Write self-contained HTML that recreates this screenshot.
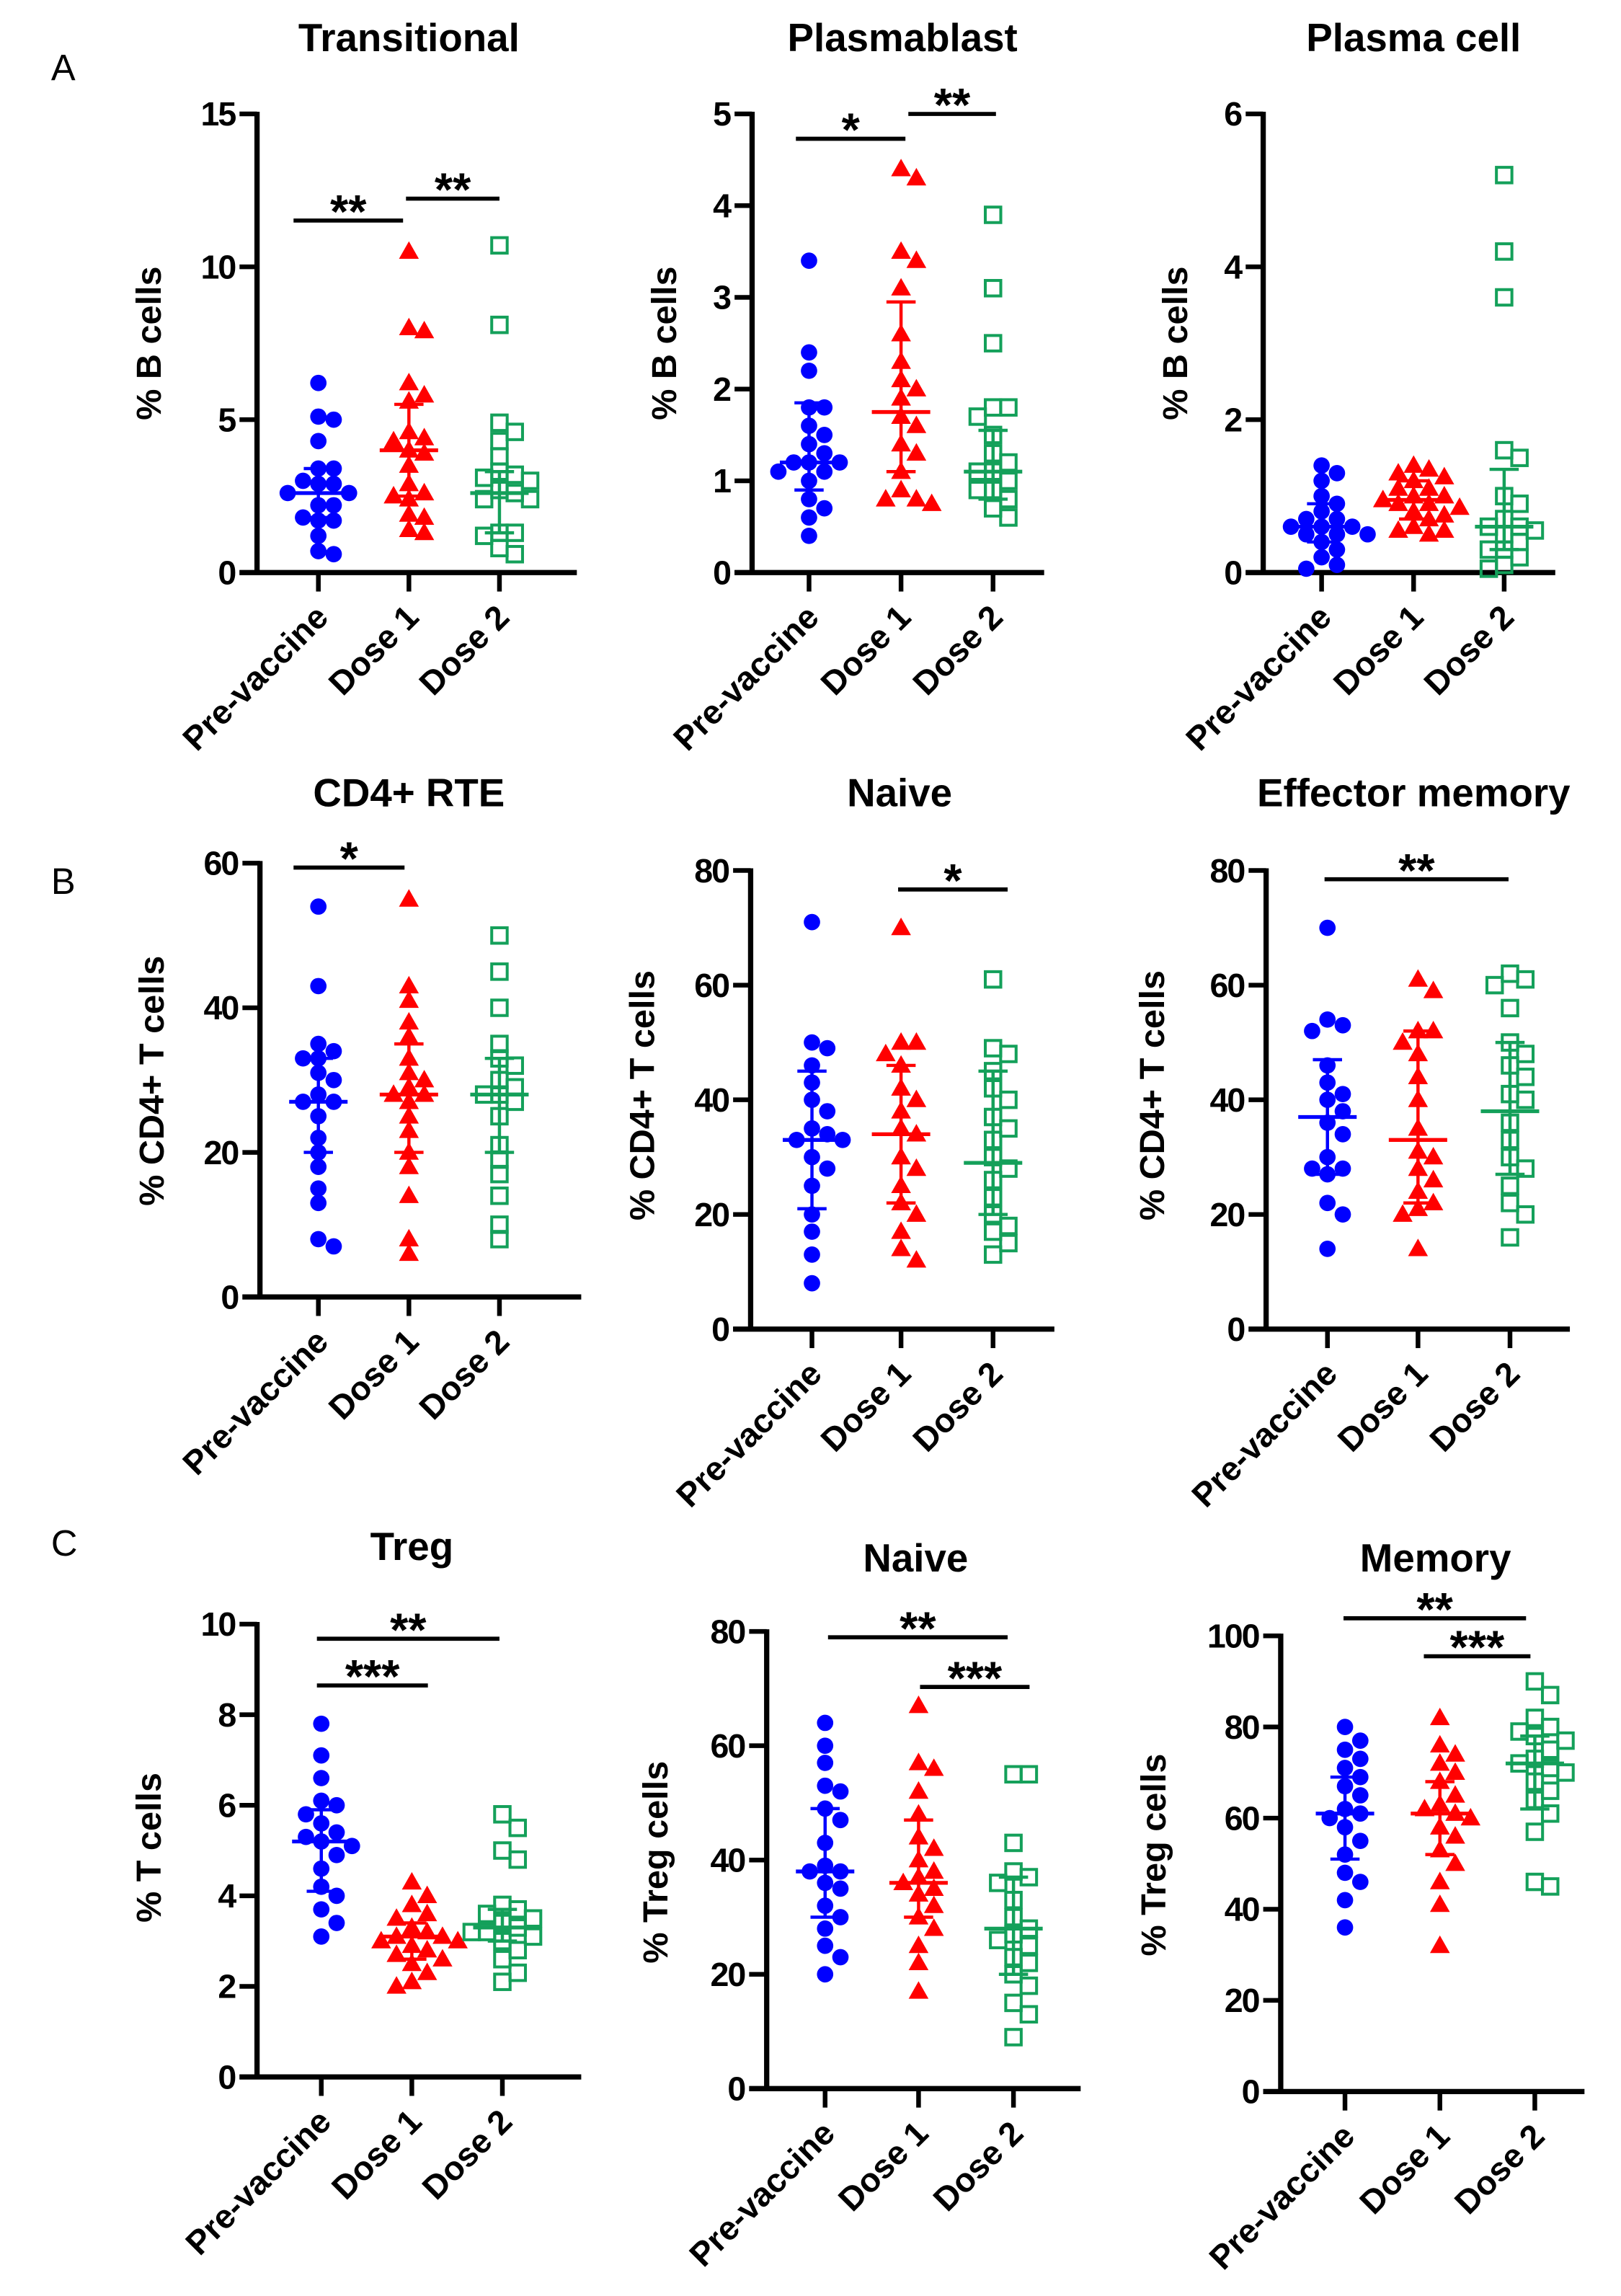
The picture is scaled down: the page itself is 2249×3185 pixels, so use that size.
<!DOCTYPE html>
<html><head><meta charset="utf-8"><style>
html,body{margin:0;padding:0;background:#fff;}
svg{display:block;}
text{font-family:"Liberation Sans",Arial,sans-serif;fill:#000;}
</style></head><body>
<svg id="s" xmlns="http://www.w3.org/2000/svg" width="2249" height="3185" viewBox="0 0 1110 1572"></svg>
<script>
const S=document.getElementById('s');let h='';
const COL=['#0000ff','#ff0000','#14a05a'];
function T(x,y,t,o){h+=`<text x="${x}" y="${y}" ${o||''}>${t}</text>`;}
function L(x1,y1,x2,y2,w,c){h+=`<line x1="${x1}" y1="${y1}" x2="${x2}" y2="${y2}" stroke="${c||'#000'}" stroke-width="${w}"/>`;}
function panel(p){
  const {ax,y0,y1,max,step,cats,title,tx,ty,yl,ylx,yly,data,st,xr}=p;
  const Y=v=>y0-(v/max)*(y0-y1);
  T(tx,ty,title,'font-size="27" font-weight="bold" text-anchor="middle"');
  T(ylx,yly,yl,`font-size="24" font-weight="bold" text-anchor="middle" transform="rotate(-90 ${ylx} ${yly})"`);
  L(ax,y1-1.5,ax,y0+1.5,3.6);
  L(ax-12,y0,xr,y0,3.6);
  for(let v=0;v<=max+1e-9;v+=step){const y=Y(v);L(ax-12,y,ax,y,3.2);
    T(ax-15,y+8,+v.toFixed(0),'font-size="23" text-anchor="end" font-weight="bold" style="letter-spacing:-1px"');}
  const names=['Pre-vaccine','Dose 1','Dose 2'];
  cats.forEach((c,i)=>{L(c,y0,c,y0+13,3.2);
    T(c+8,y0+32,names[i],`font-size="23" font-weight="bold" text-anchor="end" transform="rotate(-45 ${c+8} ${y0+32})"`);});
  data.forEach((g,i)=>{
    const c=cats[i],col=COL[i];
    const vals=g.v.slice().sort((a,b)=>b-a);const placed=[];
    vals.forEach(v=>{const y=Y(v);
      for(let k=0;k<20;k++){const dx=(k%2?1:-1)*Math.ceil(k/2)*10.5;
        if(placed.every(q=>Math.hypot(q[0]-dx,q[1]-y)>=9.5)){placed.push([dx,y]);break;}}});
    const m=Y(g.m),a=Y(g.q[0]),b=Y(g.q[1]);
    L(c,a,c,b,2.2,col);L(c-20,m,c+20,m,2.6,col);L(c-10,a,c+10,a,2.2,col);L(c-10,b,c+10,b,2.2,col);
    placed.forEach(([dx,y])=>{const x=c+dx;
      if(i==0)h+=`<circle cx="${x}" cy="${y}" r="5.6" fill="${col}"/>`;
      else if(i==1)h+=`<polygon points="${x},${y-7} ${x+6.8},${y+5} ${x-6.8},${y+5}" fill="${col}"/>`;
      else h+=`<rect x="${x-5.3}" y="${y-5.3}" width="10.6" height="10.6" fill="none" stroke="${col}" stroke-width="2"/>`;});
  });
  (st||[]).forEach(s=>{L(s[0],s[2],s[1],s[2],2.8);T((s[0]+s[1])/2,s[2]+5,s[3],'font-size="32" font-weight="bold" text-anchor="middle"');});
}
T(35,55,'A','font-size="25"');T(35,612,'B','font-size="25"');T(35,1065,'C','font-size="25"');
panel({ax:176,y0:392,y1:78,max:15,step:5,cats:[218,280,342],xr:395,title:'Transitional',tx:280,ty:35,yl:'% B cells',ylx:110,yly:235,
 data:[{v:[6.2,5.1,5.0,4.3,3.4,3.4,3.0,2.9,2.9,2.6,2.6,2.2,2.2,1.8,1.7,1.7,1.2,0.7,0.6],m:2.6,q:[1.8,3.4]},
 {v:[10.5,8.0,7.9,6.2,5.8,5.6,4.6,4.4,4.3,4.0,3.9,3.5,2.9,2.6,2.5,2.4,1.9,1.8,1.4,1.3],m:4.0,q:[2.5,5.5]},
 {v:[10.7,8.1,4.9,4.6,4.3,3.8,3.3,3.2,3.1,3.0,2.7,2.6,2.4,2.4,1.3,1.3,1.2,0.8,0.6],m:2.6,q:[1.3,3.3]}],
 st:[[201,276,151,'**'],[278,342,136,'**']]});
panel({ax:515,y0:392,y1:78,max:5,step:1,cats:[554,617,680],xr:715,title:'Plasmablast',tx:618,ty:35,yl:'% B cells',ylx:463,yly:235,
 data:[{v:[3.4,2.4,2.2,1.8,1.8,1.6,1.5,1.4,1.3,1.2,1.2,1.2,1.1,1.1,1.0,0.8,0.7,0.6,0.4],m:1.2,q:[0.9,1.85]},
 {v:[4.4,4.3,3.5,3.4,3.1,2.6,2.3,2.1,2.0,1.9,1.7,1.6,1.4,1.3,1.1,0.9,0.8,0.8,0.75],m:1.75,q:[1.1,2.95]},
 {v:[3.9,3.1,2.5,1.8,1.8,1.7,1.5,1.3,1.2,1.1,1.1,1.0,0.9,0.9,0.8,0.7,0.6],m:1.1,q:[0.8,1.55]}],
 st:[[545,620,95,'*'],[622,682,78,'**']]});
panel({ax:865,y0:392,y1:78,max:6,step:2,cats:[905,968,1030],xr:1065,title:'Plasma cell',tx:968,ty:35,yl:'% B cells',ylx:813,yly:235,
 data:[{v:[1.4,1.3,1.2,1.0,0.9,0.8,0.7,0.7,0.6,0.6,0.6,0.5,0.5,0.5,0.4,0.3,0.2,0.1,0.05],m:0.6,q:[0.4,0.9]},
 {v:[1.4,1.35,1.3,1.25,1.2,1.1,1.1,1.0,1.0,0.95,0.9,0.9,0.85,0.8,0.75,0.7,0.6,0.55,0.5,0.55],m:0.95,q:[0.7,1.2]},
 {v:[5.2,4.2,3.6,1.6,1.5,1.0,0.9,0.7,0.6,0.6,0.55,0.5,0.4,0.3,0.3,0.2,0.1,0.05],m:0.6,q:[0.3,1.35]}]});
panel({ax:178,y0:888,y1:591,max:60,step:20,cats:[218,280,342],xr:398,title:'CD4+ RTE',tx:280,ty:552,yl:'% CD4+ T cells',ylx:112,yly:740,
 data:[{v:[54,43,35,34,33,33,31,30,28,27,27,25,22,20,18,15,13,8,7],m:27,q:[20,33]},
 {v:[55,43,41,38,36,33,31,30,29,28,28,27,25,23,20,18,14,8,6],m:28,q:[20,35]},
 {v:[50,45,40,35,33,32,30,29,28,28,27,25,21,19,17,14,10,8],m:28,q:[20,33]}],
 st:[[201,277,594,'*']]});
panel({ax:514,y0:910,y1:596,max:80,step:20,cats:[556,617,680],xr:722,title:'Naive',tx:616,ty:552,yl:'% CD4+ T cells',ylx:448,yly:750,
 data:[{v:[71,50,49,46,43,40,38,35,34,33,33,30,28,25,20,17,13,8],m:33,q:[21,45]},
 {v:[70,50,50,48,46,42,40,38,35,34,30,28,25,22,20,17,14,12],m:34,q:[22,46]},
 {v:[61,49,48,45,42,40,37,35,33,30,28,26,23,20,18,17,15,13],m:29,q:[20,45]}],
 st:[[615,690,609,'*']]});
panel({ax:867,y0:910,y1:596,max:80,step:20,cats:[909,971,1034],xr:1075,title:'Effector memory',tx:968,ty:552,yl:'% CD4+ T cells',ylx:797,yly:750,
 data:[{v:[70,54,53,52,46,43,41,40,38,36,34,30,28,28,27,22,20,14],m:37,q:[27,47]},
 {v:[61,59,52,52,50,48,44,40,35,31,30,28,26,24,22,21,20,14],m:33,q:[22,52]},
 {v:[62,61,60,56,50,48,46,44,41,40,36,33,30,28,25,22,20,16],m:38,q:[27,50]}],
 st:[[907,1033,602,'**']]});
panel({ax:176,y0:1422,y1:1112,max:10,step:2,cats:[220,282,344],xr:398,title:'Treg',tx:282,ty:1068,yl:'% T cells',ylx:110,yly:1265,
 data:[{v:[7.8,7.1,6.6,6.1,6.0,5.8,5.6,5.4,5.3,5.2,5.1,4.9,4.6,4.2,4.0,3.7,3.4,3.1],m:5.2,q:[4.1,5.9]},
 {v:[4.3,4.0,3.8,3.6,3.5,3.3,3.2,3.1,3.1,3.0,3.0,2.9,2.8,2.7,2.6,2.5,2.3,2.1,2.0],m:3.1,q:[2.6,3.4]},
 {v:[5.8,5.5,5.0,4.8,3.8,3.7,3.6,3.5,3.4,3.3,3.2,3.2,3.1,3.0,2.8,2.6,2.3,2.1],m:3.3,q:[3.0,3.7]}],
 st:[[217,342,1122,'**'],[217,293,1154,'***']]});
panel({ax:525,y0:1430,y1:1117,max:80,step:20,cats:[565,629,694],xr:740,title:'Naive',tx:627,ty:1076,yl:'% Treg cells',ylx:457,yly:1275,
 data:[{v:[64,60,57,53,52,49,47,43,39,38,38,36,35,32,30,28,25,23,20],m:38,q:[30,49]},
 {v:[67,57,56,52,48,44,42,40,38,37,36,35,34,32,30,28,25,22,17],m:36,q:[30,47]},
 {v:[55,55,43,38,37,36,33,30,28,27,26,25,23,22,20,18,15,13,9],m:28,q:[20,37]}],
 st:[[567,690,1121,'**'],[630,705,1155,'***']]});
panel({ax:877,y0:1432,y1:1120,max:100,step:20,cats:[921,986,1051],xr:1085,title:'Memory',tx:983,ty:1076,yl:'% Treg cells',ylx:798,yly:1270,
 data:[{v:[80,77,75,73,71,69,67,65,62,61,60,58,55,52,48,46,42,36],m:61,q:[51,69]},
 {v:[82,76,74,72,70,68,65,63,62,61,60,58,56,53,50,46,41,32],m:61,q:[52,68]},
 {v:[90,87,82,80,79,78,77,75,73,72,71,70,68,66,64,61,57,46,45],m:72,q:[62,78]}],
 st:[[920,1045,1108,'**'],[975,1048,1134,'***']]});
S.innerHTML=h;
</script>
</body></html>
